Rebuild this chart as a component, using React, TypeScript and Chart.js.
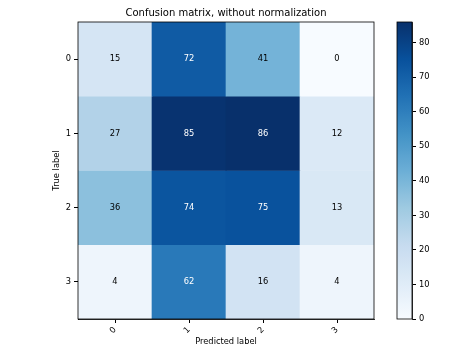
import React, { useEffect, useRef } from 'react';
import { Chart, registerables } from 'chart.js';

Chart.register(...registerables);

const PRED_LABELS = ['0', '1', '2', '3'];
const TRUE_LABELS = ['0', '1', '2', '3'];
const ROW_0 = [15, 72, 41, 0];
const ROW_1 = [27, 85, 86, 12];
const ROW_2 = [36, 74, 75, 13];
const ROW_3 = [4, 62, 16, 4];
const MATRIX = [ROW_0, ROW_1, ROW_2, ROW_3];
const VMIN = 0;
const VMAX = 86;
const COLORBAR_TICKS = [0, 10, 20, 30, 40, 50, 60, 70, 80];

const TITLE = 'Confusion matrix, without normalization';
const X_TITLE = 'Predicted label';
const Y_TITLE = 'True label';

const FONT = 'DejaVu Sans';
const SMALL = 8.3;
const BIG = 10;
const BLUES = ['#f7fbff', '#deebf7', '#c6dbef', '#9ecae1', '#6baed6', '#4292c6', '#2171b5', '#08519c', '#08306b'];

function hexToRgb(h: string) {
  return [parseInt(h.slice(1, 3), 16), parseInt(h.slice(3, 5), 16), parseInt(h.slice(5, 7), 16)];
}

function blues(t: number) {
  const tt = Math.max(0, Math.min(1, t));
  const pos = tt * (BLUES.length - 1);
  const i = Math.min(BLUES.length - 2, Math.floor(pos));
  const f = pos - i;
  const a = hexToRgb(BLUES[i]);
  const b = hexToRgb(BLUES[i + 1]);
  const c = a.map((v, k) => Math.round(v + (b[k] - v) * f));
  return `rgb(${c[0]},${c[1]},${c[2]})`;
}

const frameAndText = {
  id: 'frameAndText',
  afterDatasetsDraw(chart: any) {
    const { ctx, chartArea, scales } = chart;
    ctx.save();
    ctx.font = `${SMALL}px "${FONT}"`;
    ctx.textAlign = 'center';
    ctx.textBaseline = 'middle';
    MATRIX.forEach((row, r) => {
      row.forEach((v, c) => {
        const x = scales.x.getPixelForValue(c);
        const y = scales.y.getPixelForValue(r);
        ctx.fillStyle = v > (VMAX + VMIN) / 2 ? '#ffffff' : '#000000';
        ctx.fillText(String(v), x, y);
      });
    });
    ctx.strokeStyle = '#000';
    ctx.lineWidth = 0.8;
    ctx.strokeRect(chartArea.left, chartArea.top, chartArea.right - chartArea.left, chartArea.bottom - chartArea.top);
    ctx.restore();
  },
};

const cbFrame = {
  id: 'cbFrame',
  afterDatasetsDraw(chart: any) {
    const { ctx, chartArea } = chart;
    ctx.save();
    ctx.strokeStyle = '#000';
    ctx.lineWidth = 0.8;
    ctx.strokeRect(chartArea.left, chartArea.top, chartArea.right - chartArea.left, chartArea.bottom - chartArea.top);
    ctx.restore();
  },
};

export default function App() {
  const mainRef = useRef<HTMLCanvasElement>(null);
  const cbRef = useRef<HTMLCanvasElement>(null);

  useEffect(() => {
    const main = new Chart(mainRef.current as HTMLCanvasElement, {
      type: 'bar',
      data: {
        labels: PRED_LABELS,
        datasets: MATRIX.map((row, r) => ({
          label: TRUE_LABELS[r],
          data: row.map(() => [r - 0.5, r + 0.5]) as any,
          backgroundColor: row.map((v) => blues((v - VMIN) / (VMAX - VMIN))),
          borderWidth: 0,
          grouped: false,
          barPercentage: 1,
          categoryPercentage: 1,
        })),
      },
      options: {
        responsive: false,
        animation: false,
        layout: { padding: { left: 0, right: 100, top: 0, bottom: 0 } },
        plugins: {
          legend: { display: false },
          tooltip: { enabled: false },
          title: { display: false },
        },
        scales: {
          x: {
            type: 'category',
            offset: true,
            grid: { display: true, drawOnChartArea: false, offset: false, tickLength: 4, color: '#000' },
            border: { display: true, color: '#000', width: 0.8 },
            ticks: { minRotation: 45, maxRotation: 45, padding: 2, color: '#000', font: { family: FONT, size: SMALL } },
            title: { display: true, text: X_TITLE, color: '#000', font: { family: FONT, size: SMALL }, padding: { top: 0, bottom: 8 } },
            afterFit: (s: any) => { s.height = 36; },
          } as any,
          top: {
            type: 'category',
            position: 'top',
            offset: true,
            grid: { display: false },
            border: { display: false },
            ticks: { display: false },
            title: { display: true, text: TITLE, color: '#000', font: { family: FONT, size: BIG }, padding: { top: 7.3, bottom: 0 } },
            afterFit: (s: any) => { s.height = 22; },
          } as any,
          y: {
            type: 'linear',
            min: -0.5,
            max: 3.5,
            reverse: true,
            afterBuildTicks: (s: any) => { s.ticks = TRUE_LABELS.map((_, i) => ({ value: i })); },
            grid: { display: true, drawOnChartArea: false, tickLength: 4, color: '#000' },
            border: { display: true, color: '#000', width: 0.8 },
            ticks: {
              padding: 3,
              color: '#000',
              font: { family: FONT, size: SMALL },
              callback: (v: any) => TRUE_LABELS[v] ?? '',
            },
            title: { display: true, text: Y_TITLE, color: '#000', font: { family: FONT, size: SMALL }, padding: { top: 51.7, bottom: 0 } },
            afterFit: (s: any) => { s.width = 78; },
          } as any,
        },
      },
      plugins: [frameAndText],
    });

    const cb = new Chart(cbRef.current as HTMLCanvasElement, {
      type: 'bar',
      data: {
        labels: ['cb'],
        datasets: [
          {
            data: [[VMIN, VMAX]] as any,
            backgroundColor: (context: any) => {
              const { chart } = context;
              const area = chart.chartArea;
              if (!area) return BLUES[0];
              const g = chart.ctx.createLinearGradient(0, area.bottom, 0, area.top);
              for (let i = 0; i <= 40; i++) g.addColorStop(i / 40, blues(i / 40));
              return g;
            },
            borderWidth: 0,
            barPercentage: 1,
            categoryPercentage: 1,
          },
        ],
      },
      options: {
        responsive: false,
        animation: false,
        layout: { padding: { left: 17, right: 0, top: 22, bottom: 36 } },
        plugins: { legend: { display: false }, tooltip: { enabled: false }, title: { display: false } },
        scales: {
          x: { type: 'category', display: false, offset: true },
          y: {
            type: 'linear',
            position: 'right',
            min: VMIN,
            max: VMAX,
            afterBuildTicks: (s: any) => { s.ticks = COLORBAR_TICKS.map((v) => ({ value: v })); },
            grid: { display: true, drawOnChartArea: false, tickLength: 4, color: '#000' },
            border: { display: true, color: '#000', width: 0.8 },
            ticks: { padding: 3, color: '#000', font: { family: FONT, size: SMALL } },
            afterFit: (s: any) => { s.width = 62; },
          } as any,
        },
      },
      plugins: [cbFrame],
    });

    return () => {
      main.destroy();
      cb.destroy();
    };
  }, []);

  return (
    <div style={{ position: 'fixed', left: 0, top: 0, width: 474, height: 355, background: '#fff' }}>
      <canvas ref={mainRef} width={474} height={355} style={{ position: 'absolute', left: 0, top: 0 }} />
      <canvas ref={cbRef} width={94} height={355} style={{ position: 'absolute', left: 380, top: 0 }} />
    </div>
  );
}
